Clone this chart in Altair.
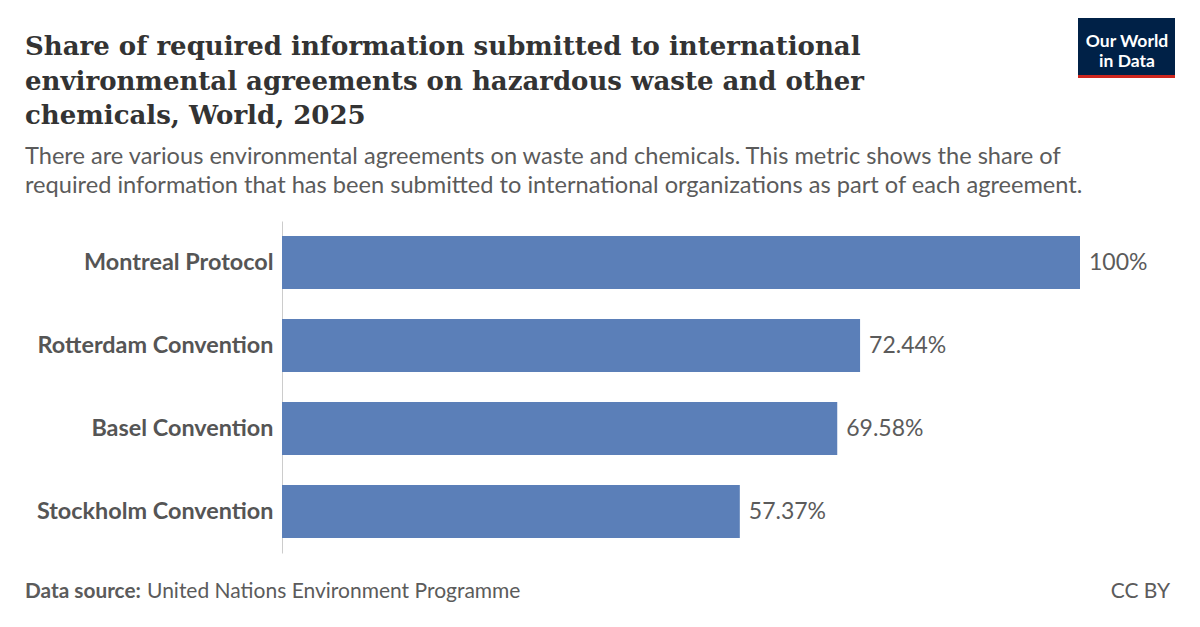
import altair as alt
import pandas as pd

categories = ["Montreal Protocol", "Rotterdam Convention", "Basel Convention", "Stockholm Convention"]
values = [100, 72.44, 69.58, 57.37]
value_labels = ["100%", "72.44%", "69.58%", "57.37%"]

title_lines = [
    "Share of required information submitted to international",
    "environmental agreements on hazardous waste and other",
    "chemicals, World, 2025",
]
subtitle_lines = [
    "There are various environmental agreements on waste and chemicals. This metric shows the share of",
    "required information that has been submitted to international organizations as part of each agreement.",
]
source_label = "Data source:"
source_text = "United Nations Environment Programme"
license_text = "CC BY"
logo_lines = ["Our World", "in Data"]

df = pd.DataFrame({"agreement": categories, "value": values, "label": value_labels})

PL, PT = 274, 213  # padding: plot origin at absolute (282, 221)
W, H = 798, 332


def ax(x):
    return x - 8 - PL


def ay(y):
    return y - 8 - PT


one = pd.DataFrame({"k": [0]})


def txt(s, x, y, size, color, font="Lato", weight="normal", align="left", baseline="alphabetic"):
    return alt.Chart(one).mark_text(
        font=font, fontSize=size, fontWeight=weight, color=color, align=align, baseline=baseline
    ).encode(x=alt.value(ax(x)), y=alt.value(ay(y)), text=alt.value(s))


yenc = alt.Y(
    "agreement:N",
    sort=categories,
    scale=alt.Scale(paddingInner=0.36, paddingOuter=0.18),
    axis=alt.Axis(
        title=None, ticks=False, domain=True, domainColor="#cccccc", domainWidth=1,
        labelFont="Lato", labelFontSize=23.4, labelFontWeight="bold", labelColor="#555555",
        labelPadding=9, labelLimit=300,
    ),
)
xenc = alt.X("value:Q", scale=alt.Scale(domain=[0, 100]), axis=None)

bars = alt.Chart(df).mark_bar(color="#5b7fb8").encode(x=xenc, y=yenc)
labels = alt.Chart(df).mark_text(
    font="Lato", fontSize=23, color="#5b5b5b", align="left", dx=9, baseline="middle"
).encode(x=xenc, y=yenc, text="label:N")

layers = [bars, labels]

title_y = [55, 90, 124]
for s, y in zip(title_lines, title_y):
    layers.append(txt(s, 25, y, 26, "#333333", font="DejaVu Serif", weight="bold"))
sub_y = [164, 193]
for s, y in zip(subtitle_lines, sub_y):
    layers.append(txt(s, 25, y, 23.6, "#5b5b5b"))

layers.append(txt(source_label, 25, 598, 20.8, "#5b5b5b", weight="bold"))
layers.append(txt(source_text, 147, 598, 21, "#5b5b5b"))
layers.append(txt(license_text, 1170, 598, 21, "#5b5b5b", align="right"))

# logo
logo_bg = alt.Chart(one).mark_rect(color="#002147").encode(
    x=alt.value(ax(1078)), x2=alt.value(ax(1175)), y=alt.value(ay(18)), y2=alt.value(ay(75))
)
logo_red = alt.Chart(one).mark_rect(color="#ce261e").encode(
    x=alt.value(ax(1078)), x2=alt.value(ax(1175)), y=alt.value(ay(75)), y2=alt.value(ay(78))
)
layers += [logo_bg, logo_red]
layers.append(txt(logo_lines[0], 1127, 47, 17.5, "#ffffff", weight="bold", align="center"))
layers.append(txt(logo_lines[1], 1127, 67, 17.5, "#ffffff", weight="bold", align="center"))

chart = alt.layer(*layers).properties(
    width=W, height=H,
    autosize=alt.AutoSizeParams(type="none"),
    padding={"left": PL, "top": PT, "right": 1184 - PL - W, "bottom": 611 - PT - H},
    background="white",
).configure_view(stroke=None)

chart.save("out.html", embed_options={"renderer": "svg", "actions": False})
